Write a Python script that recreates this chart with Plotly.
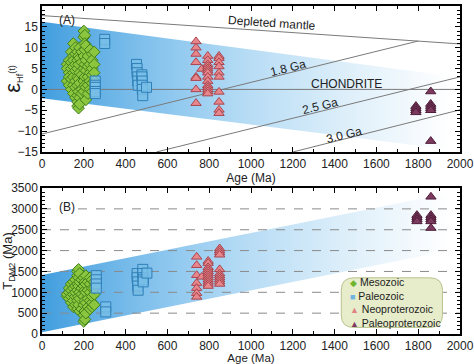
import plotly.graph_objects as go

# ---------------- data ----------------
# Panel A: epsilon Hf(t)
meso_age_a = [120,120,120,130,130,130,130,140,140,140,140,140,150,150,150,150,150,150,150,150,
              160,160,160,160,160,160,160,170,170,170,170,170,170,170,170,175,175,175,175,175,
              180,180,180,180,180,180,190,190,190,190,190,200,200,200,200,200,200,205,205,205,
              205,205,205,210,210,210,210,210,220,220,220,220,220,230,230,230,230,230,240,240,
              240,240,240,240,250,250,250,250]
meso_ehf = [6,5,2,7,4,3,1,9,6.5,5,2.5,0,11,8,7,5.5,4,3,1,-1,
            10,8.5,6,4.5,2,0.5,-2,9,7,5,3,1,-1.5,-3,-4,8,6,2.5,-0.5,-4.5,
            10,7.5,4,1.5,-2,-3.5,9,6.5,3.5,0,-1,14,12.5,8,5,2,-0.5,13,11,9.5,
            6,3,1,10.5,7,4.5,0.5,-2.5,8,5.5,3,1,-1,9.5,6,4,2,0,8.5,7,
            5,3.5,1.5,-0.5,9,6,4,2]

paleo_age_a = [255,255,255,255,255,300,300,452,455,455,458,458,460,478,478,480,480,480,482,500]
paleo_ehf = [2,1,0.5,-0.5,-1,12,11,6,5,4,3,2,1,3.5,3,2,1,0,-1.5,0.5]

neo_age_a = [737,737,737,737,737,737,737,737,765,
             793,793,793,793,793,793,793,793,793,793,793,793,793,793,
             847,847,847,847,847,847,847,847,847,847]
neo_ehf = [11.5,10,8.5,6.5,3,2.7,0,-3.3,4.9,
           8,7,6,5.5,5,4.5,4,3,2,1,0.5,0,-0.5,-1,
           8,7.5,6.5,5.5,4,3,-0.6,-3,-4.9,-5.7]

paleop_age_a = [1789,1789,1789,1789,1860,1860,1860,1860,1860,1860]
paleop_ehf = [-4,-4.5,-5,-5.5,-0.5,-3.5,-4,-4.5,-5,-12.4]

# reference evolution lines (age Ma, eHf)
dm_age = [0, 2000];        dm_ehf = [17.7, 10.9]
chon_age = [0, 2000];      chon_ehf = [0, 0]
ga18_age = [0, 1800];      ga18_ehf = [-10.7, 11.6]
ga25_age = [548, 2000];    ga25_ehf = [-15, 3.0]
ga30_age = [1201, 2000];   ga30_ehf = [-15, -4.9]

# blue field A (age, eHf)
fieldA_age = [0, 1950, 1950, 0]
fieldA_ehf = [16.2, 3.2, -14.4, -2.1]

# Panel B: TDM2
meso_age_b = [120,120,130,130,130,140,140,140,140,150,150,150,150,150,160,160,160,160,160,
              170,170,170,170,170,170,175,175,175,175,175,180,180,180,180,180,190,190,190,190,
              200,200,200,200,200,200,205,205,205,205,205,210,210,210,210,210,220,220,220,220,
              230,230,230,230,230,240,240,240,240,240,250,250,250,250]
meso_tdm = [900,950,850,1000,1100,750,900,1050,1200,650,800,950,1100,1250,700,900,1000,1150,1300,
            600,800,1050,1200,1400,1500,700,900,1150,1350,1550,550,850,1000,1250,1450,600,950,1100,1300,
            300,450,700,900,1150,1350,350,550,800,1050,1250,500,750,1000,1200,1400,650,850,1050,1250,
            600,800,1000,1200,1350,650,750,900,1100,1300,700,950,1100,1250]

paleo_age_b = [260,260,260,260,305,305,455,455,458,458,460,482,482,484,484,484,502]
paleo_tdm = [1400,1300,1200,1100,650,530,1450,1350,1250,1150,1050,1550,1450,1350,1300,1250,1460]

neo_age_b = [740,740,740,740,740,740,740,765,
             795,795,795,795,795,795,795,795,795,795,795,795,
             850,850,850,850,850,850,850,850,850,850,850]
neo_tdm = [1850,1650,1410,1220,1100,980,890,1370,
           1750,1700,1600,1550,1500,1450,1400,1350,1300,1250,1200,1150,
           2050,2000,1950,1900,1550,1450,1400,1350,1300,1250,1200]

paleop_age_b = [1794,1794,1794,1794,1861,1861,1861,1861,1861,1861]
paleop_tdm = [2850,2800,2750,2700,3290,2850,2800,2750,2700,2540]

# blue field B (age, TDM2)
fieldB_age = [0, 1950, 1950, 0]
fieldB_tdm = [1415, 3380, 2000, 40]

x_ticks = [0, 200, 400, 600, 800, 1000, 1200, 1400, 1600, 1800, 2000]
tdm_grid = [500, 1000, 1500, 2000, 2500, 3000]
legend_names = ["Mesozoic", "Paleozoic", "Neoproterozoic", "Paleoproterozoic"]

# ---------------- styles ----------------
FONT = "Liberation Sans, Arial, sans-serif"
c_meso, e_meso = "#8cc63f", "#3f7f1c"
c_pal, e_pal = "rgba(120,190,232,0.85)", "#2f7fb8"
c_neo, e_neo = "#e8878b", "#a94550"
c_pp, e_pp = "#7d3a5f", "#4e1d3a"
grad = [[0, "rgb(66,158,222)"], [0.25, "rgb(128,192,236)"], [0.5, "rgb(182,220,245)"],
        [0.75, "rgb(222,239,250)"], [1, "rgb(255,255,255)"]]

fig = go.Figure()

def field(xs, ys, xa, ya):
    fig.add_trace(go.Scatter(x=xs, y=ys, mode="lines", fill="toself", line=dict(width=0),
                             fillgradient=dict(type="horizontal", colorscale=grad, start=0, stop=1950),
                             hoverinfo="skip", showlegend=False, xaxis=xa, yaxis=ya))

field(fieldA_age, fieldA_ehf, "x", "y")
field(fieldB_age, fieldB_tdm, "x2", "y2")

# dashed horizontal guide lines of panel B, drawn above the field but below the symbols
gx, gy = [], []
for v in tdm_grid:
    gx += [0, 2000, None]
    gy += [v, v, None]
fig.add_trace(go.Scatter(x=gx, y=gy, mode="lines", line=dict(color="#8a8a8a", width=1, dash="dash"),
                         showlegend=False, hoverinfo="skip", xaxis="x2", yaxis="y2"))

for xs, ys in [(dm_age, dm_ehf), (chon_age, chon_ehf), (ga18_age, ga18_ehf),
               (ga25_age, ga25_ehf), (ga30_age, ga30_ehf)]:
    fig.add_trace(go.Scatter(x=xs, y=ys, mode="lines", line=dict(color="#7a7a7a", width=1),
                             showlegend=False, hoverinfo="skip", xaxis="x", yaxis="y"))

def pts(xs, ys, sym, fc, ec, size, xa, ya):
    fig.add_trace(go.Scatter(x=xs, y=ys, mode="markers", showlegend=False,
                             marker=dict(symbol=sym, color=fc, size=size, line=dict(color=ec, width=1)),
                             xaxis=xa, yaxis=ya))

pts(meso_age_a, meso_ehf, "diamond", c_meso, e_meso, 9, "x", "y")
pts(paleo_age_a, paleo_ehf, "square", c_pal, e_pal, 10, "x", "y")
pts(neo_age_a, neo_ehf, "triangle-up", c_neo, e_neo, 9, "x", "y")
pts(paleop_age_a, paleop_ehf, "triangle-up", c_pp, e_pp, 9, "x", "y")

pts(meso_age_b, meso_tdm, "diamond", c_meso, e_meso, 9, "x2", "y2")
pts(paleo_age_b, paleo_tdm, "square", c_pal, e_pal, 10, "x2", "y2")
pts(neo_age_b, neo_tdm, "triangle-up", c_neo, e_neo, 9, "x2", "y2")
pts(paleop_age_b, paleop_tdm, "triangle-up", c_pp, e_pp, 9, "x2", "y2")

axis_common = dict(showline=True, linecolor="black", linewidth=1.5, mirror="ticks",
                   ticks="inside", ticklen=5, tickcolor="black", tickwidth=1, automargin=False,
                   tickfont=dict(family=FONT, size=12, color="#222"), zeroline=False, showgrid=False)

fig.update_layout(
    width=474, height=364, plot_bgcolor="white", paper_bgcolor="white",
    margin=dict(l=42, r=14, t=6, b=30), showlegend=False,
    font=dict(family=FONT, size=12, color="#222"),
    xaxis=dict(domain=[0, 1], range=[0, 2000], tickvals=x_ticks, anchor="y",
               minor=dict(ticks="inside", ticklen=3, dtick=100, tickcolor="black"),
               title=dict(text="Age (Ma)", font=dict(size=12), standoff=0), **axis_common),
    yaxis=dict(domain=[0.555, 1], range=[-15, 20], dtick=5, anchor="x",
               minor=dict(ticks="inside", ticklen=3, dtick=1, tickcolor="black"),
               title=dict(text="<span style='font-size:22px'>ε</span><sub>Hf</sub><sup>(t)</sup>",
                          font=dict(size=13), standoff=2), **axis_common),
    xaxis2=dict(domain=[0, 1], range=[0, 2000], tickvals=x_ticks, anchor="y2",
                minor=dict(ticks="inside", ticklen=3, dtick=100, tickcolor="black"),
                title=dict(text="Age (Ma)", font=dict(size=11.5), standoff=0), **axis_common),
    yaxis2=dict(domain=[0, 0.445], range=[0, 3500], dtick=500, anchor="x2",
                minor=dict(ticks="inside", ticklen=3, dtick=100, tickcolor="black"),
                title=dict(text="T<sub>DM2</sub> (Ma)", font=dict(size=13), standoff=2), **axis_common),
)

ann_font = dict(family=FONT, size=12, color="#222")
for txt, x, y, ang in [("Depleted mantle", 1100, 15.9, 3.8), ("1.8 Ga", 1177, 5.2, -14),
                       ("CHONDRITE", 1459, 1.4, 0), ("2.5 Ga", 1330, -4.0, -14),
                       ("3.0 Ga", 1445, -10.9, -14), ("(A)", 120, 16.6, 0)]:
    fig.add_annotation(x=x, y=y, xref="x", yref="y", text=txt, showarrow=False,
                       textangle=ang, font=ann_font)
fig.add_annotation(x=120, y=3050, xref="x2", yref="y2", text="(B)", showarrow=False,
                   font=ann_font, bgcolor="white")

# custom legend: rounded box in bottom panel domain coords
x0, x1, y0, y1, r = 0.716, 0.958, 0.045, 0.385, 0.03
ry = r * 418 / 146
path = (f"M {x0+r},{y0} L {x1-r},{y0} Q {x1},{y0} {x1},{y0+ry} L {x1},{y1-ry} "
        f"Q {x1},{y1} {x1-r},{y1} L {x0+r},{y1} Q {x0},{y1} {x0},{y1-ry} "
        f"L {x0},{y0+ry} Q {x0},{y0} {x0+r},{y0} Z")
fig.add_shape(type="path", path=path, xref="x2 domain", yref="y2 domain",
              fillcolor="#e7edcb", line=dict(color="#b9c28f", width=1))
leg_syms = ["◆", "■", "▲", "▲"]
leg_cols = ["#6fb52e", "#6fb3e0", "#e08085", "#7d3a5f"]
lines = [f"<span style='color:{c};font-size:9px'>{s}</span> {nm}"
         for nm, s, c in zip(legend_names, leg_syms, leg_cols)]
fig.add_annotation(x=0.732, y=(y0 + y1) / 2, xref="x2 domain", yref="y2 domain",
                   text="<br>".join(lines), showarrow=False, xanchor="left", yanchor="middle",
                   align="left", font=dict(family=FONT, size=10.5, color="#222"))

fig.write_html("out.html", config={"displayModeBar": False},
               post_script="document.body.style.margin='0';")
